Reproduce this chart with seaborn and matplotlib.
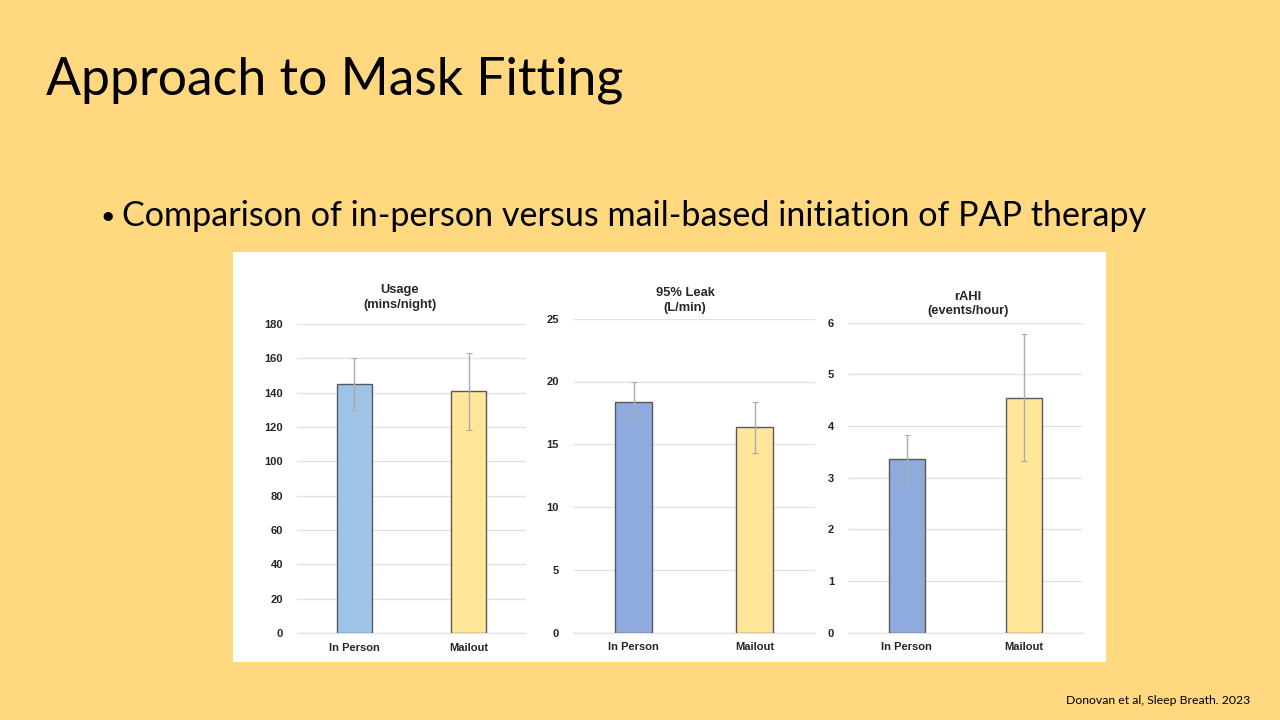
import numpy as np
import pandas as pd
import matplotlib
matplotlib.use('Agg')
import matplotlib.pyplot as plt
from matplotlib.patches import Rectangle
import seaborn as sns

# ── データ ──────────────────────────────────────
groups = ['In Person', 'Mailout']

usage_mean = [145, 141]
usage_lo   = [130, 118]
usage_hi   = [160, 163]

leak_mean = [18.4, 16.4]
leak_lo   = [17.0, 14.3]
leak_hi   = [20.0, 18.4]

rahi_mean = [3.37, 4.55]
rahi_lo   = [2.90, 3.33]
rahi_hi   = [3.82, 5.78]

titles  = ['Usage\n(mins/night)', '95% Leak\n(L/min)', 'rAHI\n(events/hour)']
yticks  = [np.arange(0, 181, 20), np.arange(0, 26, 5), np.arange(0, 7, 1)]
ylims   = [(0, 180), (0, 25), (0, 6)]
colors  = [['#9DC3E6', '#FFE699'], ['#8FAADC', '#FFE699'], ['#8FAADC', '#FFE699']]

BG = '#FFD880'

sns.set_theme(style='white')
plt.rcParams['font.family'] = ['Liberation Sans', 'DejaVu Sans']

fig = plt.figure(figsize=(12.8, 7.2), dpi=100)
fig.patch.set_facecolor(BG)

# スライドの文字
fig.text(46 / 1280, 1 - 80 / 720, 'Approach to Mask Fitting', fontsize=37.3,
         family=['Lato', 'DejaVu Sans'], va='center', ha='left', color='black')
fig.text(100 / 1280, 1 - 216 / 720, '•', fontsize=18,
         family=['Lato', 'DejaVu Sans'], va='center', ha='left', color='black')
fig.text(122 / 1280, 1 - 216 / 720,
         'Comparison of in-person versus mail-based initiation of PAP therapy',
         fontsize=24.6, family=['Lato', 'DejaVu Sans'], va='center', ha='left',
         color='black')
fig.text(1066 / 1280, 1 - 701 / 720, 'Donovan et al, Sleep Breath. 2023',
         fontsize=8.8, family=['Lato', 'DejaVu Sans'], va='center', ha='left',
         color='black')

# 白いパネル
fig.patches.append(Rectangle((233 / 1280, 1 - 662 / 720), 873 / 1280, 410 / 720,
                             transform=fig.transFigure, facecolor='white',
                             edgecolor='none', zorder=-1))

# 軸の位置 (px)
boxes = [(297, 526, 324, 633), (573, 815, 318.7, 632.7), (848, 1083, 322.7, 632.7)]
title_x = [400, 685, 968]
title_y = [297.5, 300.5, 304]

data = [(usage_mean, usage_lo, usage_hi),
        (leak_mean, leak_lo, leak_hi),
        (rahi_mean, rahi_lo, rahi_hi)]

for i, (m, lo, hi) in enumerate(data):
    l, r, t, b = boxes[i]
    ax = fig.add_axes([l / 1280, 1 - b / 720, (r - l) / 1280, (b - t) / 720])
    ax.set_facecolor('none')
    df = pd.DataFrame({'group': groups, 'value': m})
    sns.barplot(data=df, x='group', y='value', hue='group', palette=colors[i],
                saturation=1, width=0.31, edgecolor='#595959', linewidth=1.0,
                legend=False, ax=ax, zorder=3)
    m_arr = np.array(m)
    yerr = [m_arr - np.array(lo), np.array(hi) - m_arr]
    ax.errorbar([0, 1], m, yerr=yerr, fmt='none', ecolor='#ABABAB',
                elinewidth=1.0, capsize=2, capthick=0.8, zorder=4)
    ax.set_xlim(-0.5, 1.5)
    ax.set_ylim(*ylims[i])
    ax.set_yticks(yticks[i])
    ax.yaxis.grid(True, color='#E3E3E3', linewidth=1.0, zorder=0)
    ax.axhline(0, color='#E3E3E3', linewidth=1.0, zorder=1, clip_on=False)
    ax.set_axisbelow(True)
    for s in ax.spines.values():
        s.set_visible(False)
    ax.set_xlabel('')
    ax.set_ylabel('')
    ax.tick_params(axis='y', length=0, pad=10, labelsize=8, labelcolor='#262626')
    ax.tick_params(axis='x', length=0, pad=7, labelsize=8, labelcolor='#262626')
    for lab in ax.get_xticklabels() + ax.get_yticklabels():
        lab.set_fontweight('bold')
    fig.text(title_x[i] / 1280, 1 - title_y[i] / 720, titles[i], fontsize=9.3,
             fontweight='bold', ha='center', va='center', color='#262626',
             linespacing=1.3)

fig.savefig('out.png', dpi=100, facecolor=BG)
